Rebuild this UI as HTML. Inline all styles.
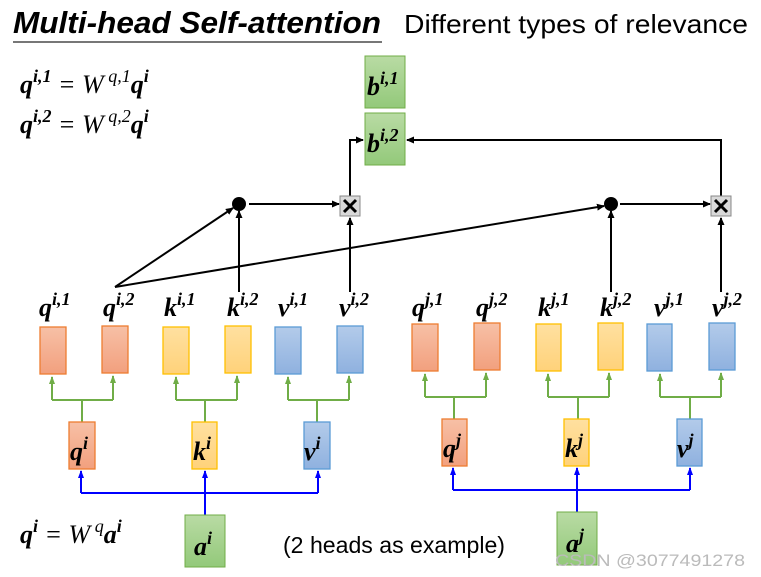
<!DOCTYPE html>
<html><head><meta charset="utf-8"><style>
body{margin:0;background:#fff}
svg{display:block}
.m{font-family:"Liberation Serif",serif;font-weight:bold;font-style:italic}
.s{font-family:"Liberation Sans","DejaVu Sans",sans-serif}
</style></head><body>
<svg width="761" height="577" viewBox="0 0 761 577" xmlns="http://www.w3.org/2000/svg">
<defs>
<marker id="ak" markerWidth="8" markerHeight="8" refX="7" refY="4" orient="auto" markerUnits="userSpaceOnUse"><path d="M0,0.5 L8,4 L0,7.5z" fill="#000"/></marker>
<marker id="ag" markerWidth="8" markerHeight="8" refX="7" refY="4" orient="auto" markerUnits="userSpaceOnUse"><path d="M0,1 L8,4 L0,7z" fill="#70ad47"/></marker>
<marker id="ab" markerWidth="8" markerHeight="8" refX="7" refY="4" orient="auto" markerUnits="userSpaceOnUse"><path d="M0,1 L8,4 L0,7z" fill="#0000ff"/></marker>
<linearGradient id="go" x1="0" y1="0" x2="0" y2="1"><stop offset="0" stop-color="#f7c0a6"/><stop offset="1" stop-color="#f2a07e"/></linearGradient>
<linearGradient id="gy" x1="0" y1="0" x2="0" y2="1"><stop offset="0" stop-color="#ffe0a0"/><stop offset="1" stop-color="#ffd27a"/></linearGradient>
<linearGradient id="gb" x1="0" y1="0" x2="0" y2="1"><stop offset="0" stop-color="#b3cbea"/><stop offset="1" stop-color="#8fb1df"/></linearGradient>
<linearGradient id="gg" x1="0" y1="0" x2="0" y2="1"><stop offset="0" stop-color="#b9dba4"/><stop offset="1" stop-color="#93c97a"/></linearGradient>
</defs>

<text x="13" y="33" class="s" font-size="31" font-weight="bold" font-style="italic" textLength="368" lengthAdjust="spacingAndGlyphs">Multi-head Self-attention</text>
<line x1="13" y1="42" x2="382" y2="42" stroke="#777" stroke-width="2"/>
<text x="404" y="33" class="s" font-size="26" textLength="344" lengthAdjust="spacingAndGlyphs">Different types of relevance</text>

<text x="20" y="93" class="m" font-size="26">q<tspan font-size="18" dy="-11">i,1</tspan><tspan dy="11" font-weight="normal"> = W</tspan><tspan font-size="18" dy="-11" font-weight="normal"> q,1</tspan><tspan dy="11">q</tspan><tspan font-size="18" dy="-11">i</tspan></text>
<text x="20" y="133" class="m" font-size="26">q<tspan font-size="18" dy="-11">i,2</tspan><tspan dy="11" font-weight="normal"> = W</tspan><tspan font-size="18" dy="-11" font-weight="normal"> q,2</tspan><tspan dy="11">q</tspan><tspan font-size="18" dy="-11">i</tspan></text>

<rect x="365" y="56" width="40" height="52" fill="url(#gg)" stroke="#70ad47"/>
<text x="367" y="95" class="m" font-size="26">b<tspan font-size="18" dy="-11">i,1</tspan></text>
<rect x="365" y="113" width="40" height="52" fill="url(#gg)" stroke="#70ad47"/>
<text x="367" y="152" class="m" font-size="26">b<tspan font-size="18" dy="-11">i,2</tspan></text>

<g stroke="#000" stroke-width="2" fill="none">
<line x1="115" y1="287" x2="233" y2="208" marker-end="url(#ak)"/>
<line x1="115" y1="287" x2="604" y2="206" marker-end="url(#ak)"/>
<line x1="239" y1="292" x2="239" y2="211" marker-end="url(#ak)"/>
<line x1="249" y1="204" x2="339" y2="204" marker-end="url(#ak)"/>
<line x1="350" y1="292" x2="350" y2="218" marker-end="url(#ak)"/>
<polyline points="350,196 350,140 363,140" marker-end="url(#ak)"/>
<line x1="611" y1="292" x2="611" y2="211" marker-end="url(#ak)"/>
<line x1="620" y1="204" x2="710" y2="204" marker-end="url(#ak)"/>
<line x1="721" y1="292" x2="721" y2="218" marker-end="url(#ak)"/>
<polyline points="721,196 721,140 407,140" marker-end="url(#ak)"/>
</g>
<circle cx="239" cy="204" r="7" fill="#000"/>
<circle cx="611" cy="204" r="7" fill="#000"/>
<rect x="340" y="196" width="20" height="20" fill="#d9d9d9" stroke="#888"/>
<path d="M344,200 L356,212 M356,200 L344,212" stroke="#000" stroke-width="3"/>
<rect x="711" y="196" width="20" height="20" fill="#d9d9d9" stroke="#888"/>
<path d="M715,200 L727,212 M727,200 L715,212" stroke="#000" stroke-width="3"/>

<g class="m" font-size="26">
<text x="39" y="316">q<tspan font-size="18" dy="-11">i,1</tspan></text>
<text x="103" y="316">q<tspan font-size="18" dy="-11">i,2</tspan></text>
<text x="164" y="316">k<tspan font-size="18" dy="-11">i,1</tspan></text>
<text x="227" y="316">k<tspan font-size="18" dy="-11">i,2</tspan></text>
<text x="278" y="316">v<tspan font-size="18" dy="-11">i,1</tspan></text>
<text x="339" y="316">v<tspan font-size="18" dy="-11">i,2</tspan></text>
<text x="412" y="316">q<tspan font-size="18" dy="-11">j,1</tspan></text>
<text x="476" y="316">q<tspan font-size="18" dy="-11">j,2</tspan></text>
<text x="538" y="316">k<tspan font-size="18" dy="-11">j,1</tspan></text>
<text x="600" y="316">k<tspan font-size="18" dy="-11">j,2</tspan></text>
<text x="654" y="316">v<tspan font-size="18" dy="-11">j,1</tspan></text>
<text x="712" y="316">v<tspan font-size="18" dy="-11">j,2</tspan></text>
</g>

<g stroke-width="1.3">
<rect x="40" y="327" width="26" height="47" fill="url(#go)" stroke="#ed7d31"/>
<rect x="102" y="326" width="26" height="47" fill="url(#go)" stroke="#ed7d31"/>
<rect x="163" y="327" width="26" height="47" fill="url(#gy)" stroke="#ffc000"/>
<rect x="225" y="326" width="26" height="47" fill="url(#gy)" stroke="#ffc000"/>
<rect x="275" y="327" width="26" height="47" fill="url(#gb)" stroke="#5b9bd5"/>
<rect x="337" y="326" width="26" height="47" fill="url(#gb)" stroke="#5b9bd5"/>
<rect x="412" y="324" width="26" height="47" fill="url(#go)" stroke="#ed7d31"/>
<rect x="474" y="323" width="26" height="47" fill="url(#go)" stroke="#ed7d31"/>
<rect x="536" y="324" width="25" height="47" fill="url(#gy)" stroke="#ffc000"/>
<rect x="598" y="323" width="25" height="47" fill="url(#gy)" stroke="#ffc000"/>
<rect x="647" y="324" width="25" height="47" fill="url(#gb)" stroke="#5b9bd5"/>
<rect x="709" y="323" width="26" height="47" fill="url(#gb)" stroke="#5b9bd5"/>
</g>

<g stroke="#70ad47" stroke-width="2" fill="none">
<polyline points="52,400 113,400"/><line x1="52" y1="400" x2="52" y2="377" marker-end="url(#ag)"/><line x1="113" y1="400" x2="113" y2="376" marker-end="url(#ag)"/><line x1="82" y1="400" x2="82" y2="422"/>
<polyline points="176,400 237,400"/><line x1="176" y1="400" x2="176" y2="377" marker-end="url(#ag)"/><line x1="237" y1="400" x2="237" y2="376" marker-end="url(#ag)"/><line x1="205" y1="400" x2="205" y2="422"/>
<polyline points="288,400 349,400"/><line x1="288" y1="400" x2="288" y2="377" marker-end="url(#ag)"/><line x1="349" y1="400" x2="349" y2="376" marker-end="url(#ag)"/><line x1="317" y1="400" x2="317" y2="422"/>
<polyline points="425,397 486,397"/><line x1="425" y1="397" x2="425" y2="374" marker-end="url(#ag)"/><line x1="486" y1="397" x2="486" y2="373" marker-end="url(#ag)"/><line x1="454" y1="397" x2="454" y2="419"/>
<polyline points="548,397 609,397"/><line x1="548" y1="397" x2="548" y2="374" marker-end="url(#ag)"/><line x1="609" y1="397" x2="609" y2="373" marker-end="url(#ag)"/><line x1="578" y1="397" x2="578" y2="419"/>
<polyline points="660,397 721,397"/><line x1="660" y1="397" x2="660" y2="374" marker-end="url(#ag)"/><line x1="721" y1="397" x2="721" y2="373" marker-end="url(#ag)"/><line x1="690" y1="397" x2="690" y2="419"/>
</g>

<rect x="69" y="422" width="26" height="47" fill="url(#go)" stroke="#ed7d31" stroke-width="1.3"/>
<text x="70" y="460" class="m" font-size="26">q<tspan font-size="18" dy="-11">i</tspan></text>
<rect x="192" y="422" width="25" height="47" fill="url(#gy)" stroke="#ffc000" stroke-width="1.3"/>
<text x="193" y="460" class="m" font-size="26">k<tspan font-size="18" dy="-11">i</tspan></text>
<rect x="304" y="422" width="26" height="47" fill="url(#gb)" stroke="#5b9bd5" stroke-width="1.3"/>
<text x="304" y="460" class="m" font-size="26">v<tspan font-size="18" dy="-11">i</tspan></text>
<rect x="442" y="419" width="25" height="47" fill="url(#go)" stroke="#ed7d31" stroke-width="1.3"/>
<text x="443" y="457" class="m" font-size="26">q<tspan font-size="18" dy="-11">j</tspan></text>
<rect x="564" y="419" width="25" height="47" fill="url(#gy)" stroke="#ffc000" stroke-width="1.3"/>
<text x="565" y="457" class="m" font-size="26">k<tspan font-size="18" dy="-11">j</tspan></text>
<rect x="677" y="419" width="25" height="47" fill="url(#gb)" stroke="#5b9bd5" stroke-width="1.3"/>
<text x="677" y="457" class="m" font-size="26">v<tspan font-size="18" dy="-11">j</tspan></text>

<g stroke="#0000ff" stroke-width="2" fill="none">
<polyline points="81,493 318,493"/><line x1="81" y1="493" x2="81" y2="471" marker-end="url(#ab)"/><line x1="318" y1="493" x2="318" y2="471" marker-end="url(#ab)"/><line x1="205" y1="515" x2="205" y2="471" marker-end="url(#ab)"/>
<polyline points="453,490 690,490"/><line x1="453" y1="490" x2="453" y2="468" marker-end="url(#ab)"/><line x1="690" y1="490" x2="690" y2="468" marker-end="url(#ab)"/><line x1="577" y1="512" x2="577" y2="468" marker-end="url(#ab)"/>
</g>
<rect x="185" y="515" width="40" height="52" fill="url(#gg)" stroke="#70ad47"/>
<text x="194" y="555" class="m" font-size="26">a<tspan font-size="18" dy="-11">i</tspan></text>
<rect x="557" y="512" width="40" height="53" fill="url(#gg)" stroke="#70ad47"/>
<text x="566" y="552" class="m" font-size="26">a<tspan font-size="18" dy="-11">j</tspan></text>

<text x="20" y="543" class="m" font-size="26">q<tspan font-size="18" dy="-11">i</tspan><tspan dy="11" font-weight="normal"> = W</tspan><tspan font-size="18" dy="-11" font-weight="normal"> q</tspan><tspan dy="11">a</tspan><tspan font-size="18" dy="-11">i</tspan></text>
<text x="283" y="553" class="s" font-size="23" textLength="222" lengthAdjust="spacingAndGlyphs">(2 heads as example)</text>
<text x="555" y="566" class="s" font-size="17" fill="#bbb" textLength="190" lengthAdjust="spacingAndGlyphs">CSDN @3077491278</text>
</svg>
</body></html>
